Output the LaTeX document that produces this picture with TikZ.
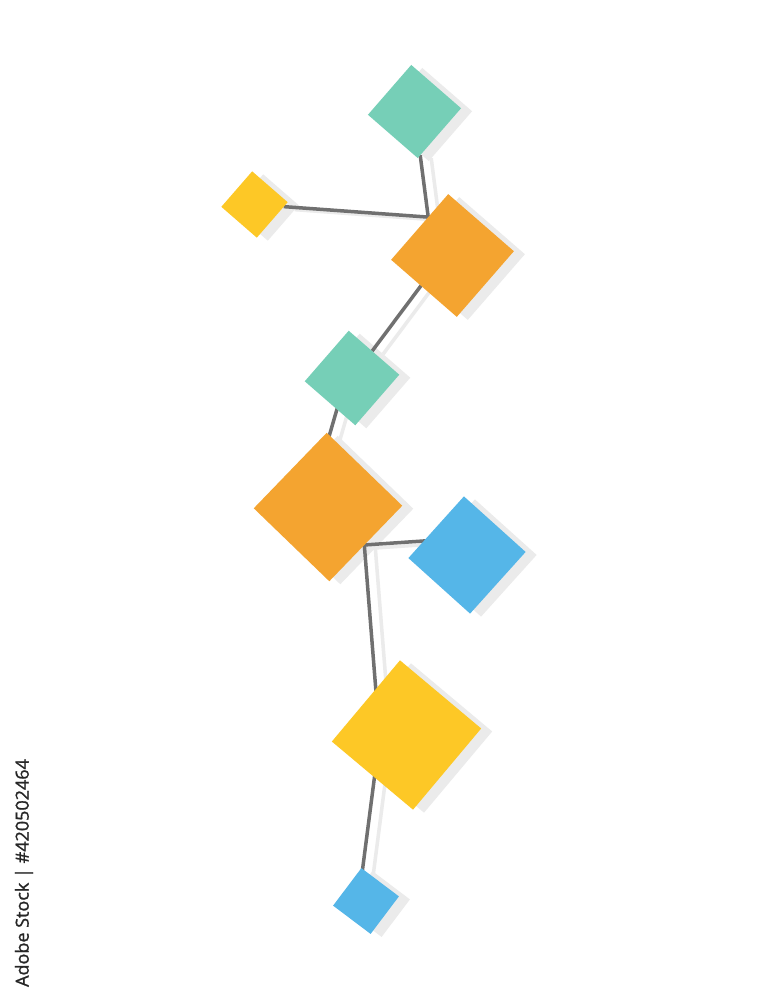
\documentclass[tikz,border=0pt]{standalone}
\usepackage{fontspec}
\setmainfont{Open Sans}
\newfontfamily\creditfont[FakeBold=1.2]{Open Sans}
\usetikzlibrary{calc}
\definecolor{tealc}{HTML}{76CFB7}
\definecolor{orangec}{HTML}{F4A430}
\definecolor{yellowc}{HTML}{FDC826}
\definecolor{bluec}{HTML}{55B6E8}
\definecolor{linec}{HTML}{707070}
\definecolor{shadec}{HTML}{EBEBEB}
\pgfdeclarelayer{bg}
\pgfdeclarelayer{mid}
\pgfsetlayers{bg,mid,main}
\tikzset{
  tile/.style={draw=none,minimum size=#1,inner sep=0pt,outer sep=0pt},
  link/.style={line width=3.5pt}
}
% the connectors, drawn once as shadow and once for real
\newcommand{\tilelinks}[1]{%
  \draw[link,#1] (tealT) -- (j1) -- (yellowS);
  \draw[link,#1] ($(orangeT.south west)!.44!(orangeT.south east)!.15!(orangeT.center)$) -- (tealM);
  \draw[link,#1] ($(tealM.south west)!.62!(tealM.south east)!.15!(tealM.center)$) -- ($(orangeB.north west)!.15!(orangeB.center)$);
  \draw[link,#1] ($(blueB.south west)!.31!(blueB.north west)!.1!(blueB.center)$) -- (j2) -- (ym) -- ($(blueS.north west)!.15!(blueS.center)$);
}
\begin{document}
\begin{tikzpicture}[x=1pt,y=-1pt]
  \useasboundingbox (0,0) rectangle (762,1000);
  % tiles
  \node[tile=66pt, fill=tealc, rotate=-41] (tealT) at (414.5,111.5) {};
  \node[tile=47pt, fill=yellowc, rotate=-41] (yellowS) at (254.5,204.5) {};
  \node[tile=87pt, fill=orangec, rotate=-41] (orangeT) at (452.5,255.5) {};
  \node[tile=67pt, fill=tealc, rotate=-41] (tealM) at (352,378) {};
  \node[tile=105pt, fill=orangec, rotate=-44] (orangeB) at (328,507) {};
  \node[tile=83pt, fill=bluec, rotate=-42] (blueB) at (467,555) {};
  \node[tile=106pt, fill=yellowc, rotate=-40] (yellowB) at (406.5,735) {};
  \node[tile=47pt, fill=bluec, rotate=-37] (blueS) at (366,901) {};
  % junctions
  \coordinate (j1) at ($(orangeT.south west)!.65!(orangeT.north west)$);
  \coordinate (j2) at ($(orangeB.north east)!.52!(orangeB.south east)$);
  \coordinate (ym) at ($(yellowB.center)!.36!(yellowB.south west)$);
  \begin{pgfonlayer}{mid}
    \tilelinks{draw=linec}
  \end{pgfonlayer}
  \begin{pgfonlayer}{bg}
    \fill[white] (0,0) rectangle (762,1000);
    \begin{scope}[transform canvas={xshift=11pt,yshift=-3pt}]
      \foreach \n in {tealT,yellowS,orangeT,tealM,orangeB,blueB,yellowB,blueS}
        \fill[shadec] (\n.north west) -- (\n.north east) -- (\n.south east) -- (\n.south west) -- cycle;
      \tilelinks{draw=shadec}
    \end{scope}
  \end{pgfonlayer}
  \node[rotate=90, font=\creditfont\fontsize{18}{21}\selectfont, text=black!85] (credit) at (24,873) {Adobe Stock | \#420502464};
\end{tikzpicture}
\end{document}
